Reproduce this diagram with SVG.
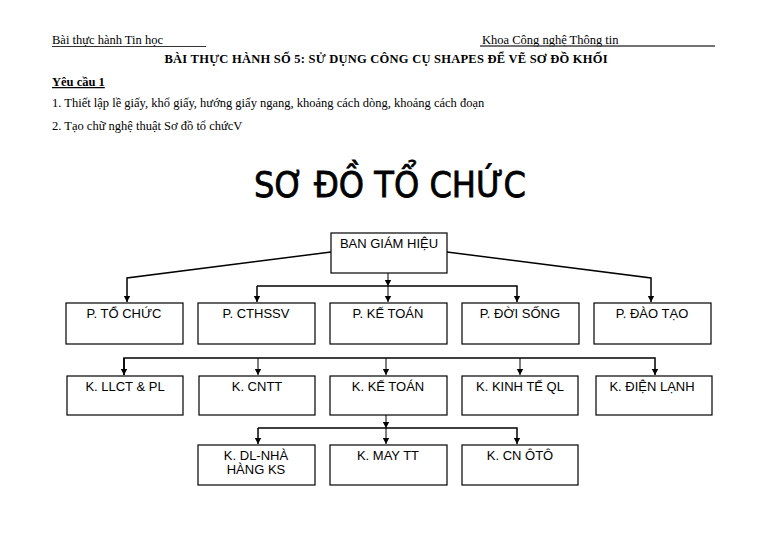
<svg xmlns="http://www.w3.org/2000/svg" width="768" height="543" viewBox="0 0 768 543">
<defs>
<marker id="a" markerWidth="8" markerHeight="8" refX="7" refY="4" orient="auto" markerUnits="userSpaceOnUse"><path d="M1,0.8 L7,4 L1,7.2 Z" fill="#000"/></marker>
<style>
.s{font-family:"Liberation Serif",serif;font-size:12.5px;fill:#000}
.b{fill:#fff;stroke:#000;stroke-width:1.2}
.t{font-family:"Liberation Sans",Arial,sans-serif;font-size:13px;text-anchor:middle;fill:#000}
.c{fill:none;stroke:#000;stroke-width:1.5}
.d{fill:none;stroke:#000;stroke-width:1}
</style>
</defs>
<rect width="768" height="543" fill="#fff"/>
<text class="s" x="52" y="44">Bài thực hành Tin học</text>
<line x1="52" y1="46.5" x2="206" y2="46.5" stroke="#000" stroke-width="0.8"/>
<text class="s" x="482" y="44">Khoa Công nghệ Thông tin</text>
<line x1="480" y1="46" x2="715" y2="46" stroke="#444" stroke-width="1.5"/>
<text class="s" x="386" y="63" text-anchor="middle" font-weight="bold" textLength="443">BÀI THỰC HÀNH SỐ 5: SỬ DỤNG CÔNG CỤ SHAPES ĐỂ VẼ SƠ ĐỒ KHỐI</text>
<text class="s" x="52" y="86" font-weight="bold" text-decoration="underline">Yêu cầu 1</text>
<text class="s" x="52" y="107">1. Thiết lập lề giấy, khổ giấy, hướng giấy ngang, khoảng cách dòng, khoảng cách đoạn</text>
<text class="s" x="52" y="130">2. Tạo chữ nghệ thuật Sơ đồ tổ chứcV</text>
<text x="390" y="197" font-family="DejaVu Sans, sans-serif" font-size="36" text-anchor="middle" textLength="272" lengthAdjust="spacingAndGlyphs" stroke="#000" stroke-width="0.8">SƠ ĐỒ TỔ CHỨC</text>
<g id="connectors">
<path class="c" d="M331,252 L127,278 L127,302" marker-end="url(#a)"/>
<path class="c" d="M447,252 L651,278 L651,302" marker-end="url(#a)"/>
<path class="d" d="M388,273 L388,286" marker-end="url(#a)"/>
<path class="c" d="M257,286 L517,286 L517,302" marker-end="url(#a)"/>
<path class="c" d="M257,286 L257,302" marker-end="url(#a)"/>
<path class="d" d="M388,286 L388,302" marker-end="url(#a)"/>
<path class="c" d="M124,375 L124,358 L655,358 L655,375" marker-end="url(#a)"/>
<path class="c" d="M124,358 L124,375" marker-end="url(#a)"/>
<path class="d" d="M258,358 L258,375" marker-end="url(#a)"/>
<path class="d" d="M386,358 L386,375" marker-end="url(#a)"/>
<path class="d" d="M520,358 L520,375" marker-end="url(#a)"/>
<path class="d" d="M386,415 L386,428" marker-end="url(#a)"/>
<path class="c" d="M258,428 L517,428 L517,444" marker-end="url(#a)"/>
<path class="c" d="M258,428 L258,444" marker-end="url(#a)"/>
<path class="d" d="M386,428 L386,444" marker-end="url(#a)"/>
</g>
<g id="ban"><rect class="b" x="331" y="233" width="116" height="40"/><text class="t" x="389" y="248">BAN GIÁM HIỆU</text></g>
<g id="p1"><rect class="b" x="66" y="303" width="117" height="41"/><text class="t" x="124" y="318">P. TỔ CHỨC</text></g>
<g id="p2"><rect class="b" x="198" y="303" width="117" height="41"/><text class="t" x="256" y="318">P. CTHSSV</text></g>
<g id="p3"><rect class="b" x="330" y="303" width="117" height="41"/><text class="t" x="388" y="318">P. KẾ TOÁN</text></g>
<g id="p4"><rect class="b" x="462" y="303" width="117" height="41"/><text class="t" x="520" y="318">P. ĐỜI SỐNG</text></g>
<g id="p5"><rect class="b" x="594" y="303" width="117" height="41"/><text class="t" x="652" y="318">P. ĐÀO TẠO</text></g>
<g id="k1"><rect class="b" x="67" y="376" width="116" height="39"/><text class="t" x="125" y="391">K. LLCT &amp; PL</text></g>
<g id="k2"><rect class="b" x="199" y="376" width="116" height="39"/><text class="t" x="257" y="391">K. CNTT</text></g>
<g id="k3"><rect class="b" x="330" y="376" width="117" height="39"/><text class="t" x="388" y="391">K. KẾ TOÁN</text></g>
<g id="k4"><rect class="b" x="462" y="376" width="116" height="39"/><text class="t" x="520" y="391">K. KINH TẾ QL</text></g>
<g id="k5"><rect class="b" x="596" y="376" width="116" height="39"/><text class="t" x="652" y="391">K. ĐIỆN LẠNH</text></g>
<g id="k6"><rect class="b" x="198" y="445" width="117" height="40"/><text class="t" x="256" y="460">K. DL-NHÀ</text><text class="t" x="256" y="474">HÀNG KS</text></g>
<g id="k7"><rect class="b" x="330" y="445" width="117" height="40"/><text class="t" x="388" y="460">K. MAY TT</text></g>
<g id="k8"><rect class="b" x="462" y="445" width="116" height="40"/><text class="t" x="520" y="460">K. CN ÔTÔ</text></g>
</svg>
